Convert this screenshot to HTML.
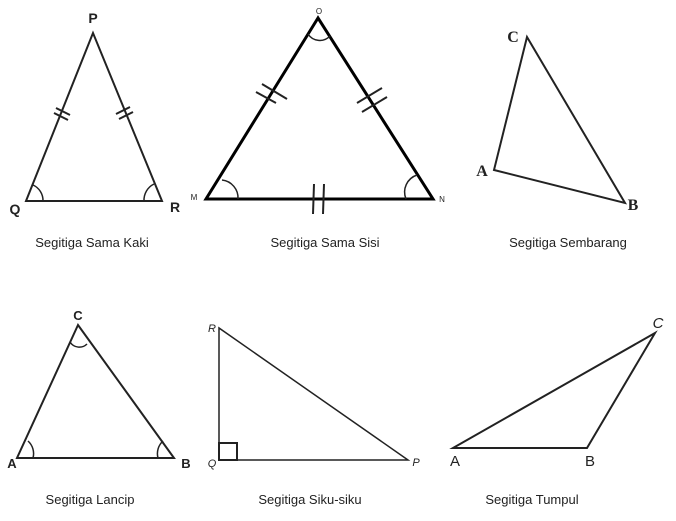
<!DOCTYPE html>
<html><head><style>body{margin:0;background:#fff}svg{display:block}</style></head><body>
<svg width="676" height="521" viewBox="0 0 676 521" xmlns="http://www.w3.org/2000/svg">
<g fill="none" stroke="#222" stroke-width="2">
<!-- Sama Kaki -->
<polygon points="93,33 26,201 162,201"/>
<path d="M33,185 A17,17 0 0 1 43,201" stroke-width="1.5"/>
<path d="M154,184 A18,18 0 0 0 144,201" stroke-width="1.5"/>
<path d="M54,113 L68,120 M56,108 L70,115" stroke-width="2"/>
<path d="M116,114 L130,107 M119,119 L133,112" stroke-width="2"/>
<!-- Sama Sisi -->
<polygon points="318,18 206,199 433,199" stroke="#000" stroke-width="3"/>
<path d="M308,34 A14,14 0 0 0 330,36" stroke-width="1.5"/>
<path d="M222,180 A18,18 0 0 1 238,199" stroke-width="1.5"/>
<path d="M417,175 A18,18 0 0 0 406,199" stroke-width="1.5"/>
<path d="M256,92 L276,103 M262,84 L287,99" stroke-width="2"/>
<path d="M357,103 L382,88 M362,112 L387,97" stroke-width="2"/>
<path d="M314,184 L313,214 M324,184 L323,214" stroke-width="2"/>
<!-- Sembarang -->
<polygon points="527,37 494,170 625,203"/>
<!-- Lancip -->
<polygon points="78,325 17,458 174,458"/>
<path d="M70,342 A11,11 0 0 0 87,344" stroke-width="1.5"/>
<path d="M28,441 A17,17 0 0 1 33,458" stroke-width="1.5"/>
<path d="M163,441 A17,17 0 0 0 158,458" stroke-width="1.5"/>
<!-- Siku -->
<polygon points="219,328 219,460 408,460" stroke-width="1.5"/>
<rect x="219" y="443" width="18" height="17" stroke-width="2"/>
<!-- Tumpul -->
<polygon points="453,448 587,448 655,333" stroke-width="2"/>
</g>
<g font-family="Liberation Sans, sans-serif" fill="#222">
<text x="93" y="23" font-size="14" font-weight="bold" text-anchor="middle">P</text>
<text x="15" y="214" font-size="14" font-weight="bold" text-anchor="middle">Q</text>
<text x="175" y="212" font-size="14" font-weight="bold" text-anchor="middle">R</text>
<text x="319" y="14" font-size="8" text-anchor="middle">O</text>
<text x="194" y="200" font-size="8" text-anchor="middle">M</text>
<text x="442" y="202" font-size="8" text-anchor="middle">N</text>
<text x="78" y="320" font-size="13" font-weight="bold" text-anchor="middle">C</text>
<text x="12" y="468" font-size="13" font-weight="bold" text-anchor="middle">A</text>
<text x="186" y="468" font-size="13" font-weight="bold" text-anchor="middle">B</text>
<g font-style="italic" font-size="11"><text x="212" y="332" text-anchor="middle">R</text><text x="212" y="467" text-anchor="middle">Q</text><text x="416" y="466" text-anchor="middle">P</text></g>
<g font-size="15"><text x="455" y="466" text-anchor="middle">A</text><text x="590" y="466" text-anchor="middle">B</text><text x="658" y="328" text-anchor="middle" font-style="italic">C</text></g>
<g font-size="13" text-anchor="middle">
<text x="92" y="247">Segitiga Sama Kaki</text>
<text x="325" y="247">Segitiga Sama Sisi</text>
<text x="568" y="247">Segitiga Sembarang</text>
<text x="90" y="504">Segitiga Lancip</text>
<text x="310" y="504">Segitiga Siku-siku</text>
<text x="532" y="504">Segitiga Tumpul</text>
</g></g>
<g font-family="Liberation Serif, serif" font-weight="bold" font-size="16" fill="#222">
<text x="513" y="42" text-anchor="middle">C</text>
<text x="482" y="176" text-anchor="middle">A</text>
<text x="633" y="210" text-anchor="middle">B</text>
</g>
</svg>
</body></html>
